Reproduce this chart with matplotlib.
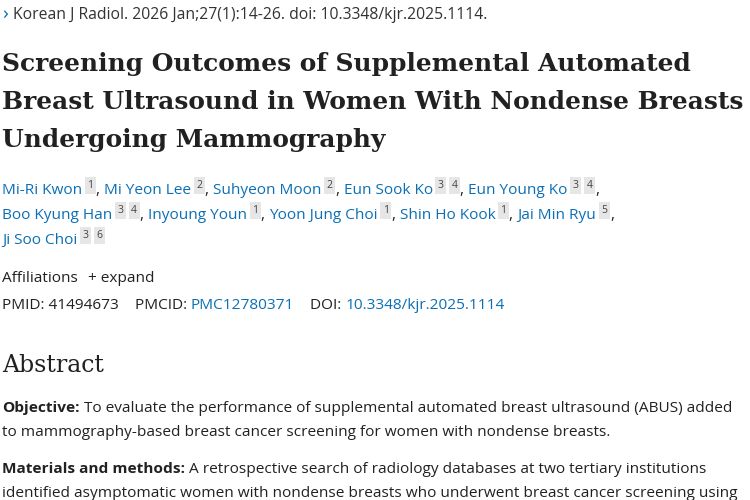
import matplotlib
matplotlib.use("Agg")
import matplotlib.pyplot as plt

W, H = 750, 500
fig = plt.figure(figsize=(7.5, 5), dpi=100)
fig.patch.set_facecolor("white")
r = fig.canvas.get_renderer()

BLUE = "#0a6fb5"
DARK = "#212121"
SANS = "Open Sans"
BODY = 11.1

def put(x, y, s, size=BODY, color=DARK, weight="normal", family=SANS, box=False):
    kw = {}
    if box:
        kw["bbox"] = dict(boxstyle="square,pad=0.25", fc="#e6e6e6", ec="none")
    t = fig.text(x / W, 1 - y / H, s, fontsize=size, color=color, weight=weight,
                 family=family, va="baseline", ha="left", **kw)
    bb = t.get_window_extent(renderer=r)
    return x + bb.width

def runs(x, y, items):
    for s, kind in items:
        if kind == "a":
            x = put(x, y, s, color=BLUE)
        elif kind == "s":
            x = put(x + 5, y - 6, s, size=7.5, color="#444444", box=True) + 3
        else:
            x = put(x, y, s, color=DARK)
    return x

x = put(2, 19, "›", size=14, color=BLUE)
put(x + 5, 19, "Korean J Radiol. 2026 Jan;27(1):14-26. doi: 10.3348/kjr.2025.1114.", size=11.3, color="#333333")

title = ["Screening Outcomes of Supplemental Automated",
         "Breast Ultrasound in Women With Nondense Breasts",
         "Undergoing Mammography"]
for i, line in enumerate(title):
    put(2, 71 + 38 * i, line, size=17.9, weight="bold", family="DejaVu Serif", color="#212121")

authors = [
    [("Mi-Ri Kwon", "a"), ("1", "s"), (", ", "t"), ("Mi Yeon Lee", "a"), ("2", "s"), (", ", "t"),
     ("Suhyeon Moon", "a"), ("2", "s"), (", ", "t"), ("Eun Sook Ko", "a"), ("3", "s"), ("4", "s"), (", ", "t"),
     ("Eun Young Ko", "a"), ("3", "s"), ("4", "s"), (",", "t")],
    [("Boo Kyung Han", "a"), ("3", "s"), ("4", "s"), (", ", "t"), ("Inyoung Youn", "a"), ("1", "s"), (", ", "t"),
     ("Yoon Jung Choi", "a"), ("1", "s"), (", ", "t"), ("Shin Ho Kook", "a"), ("1", "s"), (", ", "t"),
     ("Jai Min Ryu", "a"), ("5", "s"), (",", "t")],
    [("Ji Soo Choi", "a"), ("3", "s"), ("6", "s")],
]
for i, line in enumerate(authors):
    runs(2, 194 + 25 * i, line)

x = put(2, 282, "Affiliations")
put(x + 10, 282, "+ expand")

x = put(2, 309, "PMID: 41494673")
x = put(x + 16, 309, "PMCID: ")
x = put(x, 309, "PMC12780371", color=BLUE)
x = put(x + 16, 309, "DOI: ")
put(x, 309, "10.3348/kjr.2025.1114", color=BLUE)

put(2, 372, "Abstract", size=17, family="DejaVu Serif")

x = put(2, 412, "Objective:", weight="bold")
put(x + 4, 412, "To evaluate the performance of supplemental automated breast ultrasound (ABUS) added")
put(2, 436, "to mammography-based breast cancer screening for women with nondense breasts.")
x = put(2, 473, "Materials and methods:", weight="bold")
put(x + 4, 473, "A retrospective search of radiology databases at two tertiary institutions")
put(2, 497, "identified asymptomatic women with nondense breasts who underwent breast cancer screening using")

fig.savefig("out.png", dpi=100, facecolor="white")
